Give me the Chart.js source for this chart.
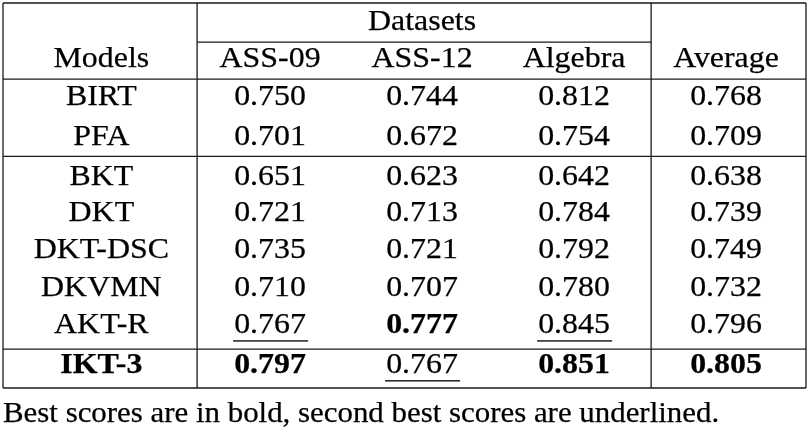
<!DOCTYPE html>
<html>
<head>
<meta charset="utf-8">
<script src="https://cdn.jsdelivr.net/npm/chart.js@4/dist/chart.umd.min.js"></script>
<style>
  html, body { margin: 0; padding: 0; background: #fff; }
  #wrap { width: 809px; height: 428px; position: relative; }
</style>
</head>
<body>
<div id="wrap"><canvas id="resultsTable"></canvas></div>
<script>
// Table data
const models = ['BIRT', 'PFA', 'BKT', 'DKT', 'DKT-DSC', 'DKVMN', 'AKT-R', 'IKT-3'];
const columns = ['ASS-09', 'ASS-12', 'Algebra', 'Average'];
const ass09 = [0.750, 0.701, 0.651, 0.721, 0.735, 0.710, 0.767, 0.797];
const ass12 = [0.744, 0.672, 0.623, 0.713, 0.721, 0.707, 0.777, 0.767];
const algebra = [0.812, 0.754, 0.642, 0.784, 0.792, 0.780, 0.845, 0.851];
const average = [0.768, 0.709, 0.638, 0.739, 0.749, 0.732, 0.796, 0.805];
const boldRow = [7, 6, 7, 7];        // best score per column
const underlineRow = [6, 7, 6, -1];  // second best per column
const footnote = 'Best scores are in bold, second best scores are underlined.';

// Layout (scale units: 1 x unit = one dataset column, 1 y unit ~ one row)
const colX = [1, 2, 3, 4];
const modelX = -0.11;
const xEdges = { left: -0.757, models: 0.52, average: 3.507, right: 4.526 };
const rowY = [0, 1.07, 2.15, 3.14, 4.12, 5.17, 6.17, 7.25];
const headY = { datasets: -2.04, columns: -1.05 };
const yLines = { top: -2.51, datasets: -1.45, header: -0.45, group: 1.64, last: 6.86, bottom: 7.91 };

const FONT = '"Liberation Serif", "Times New Roman", serif';
const SIZE = 29;
const STRETCH = 1.1;

function drawCell(ctx, text, x, yc, bold, underline, align, stretch) {
  ctx.save();
  ctx.font = (bold ? 'bold ' : '') + SIZE + 'px ' + FONT;
  ctx.textAlign = align || 'center';
  ctx.textBaseline = 'alphabetic';
  ctx.fillStyle = '#000';
  ctx.strokeStyle = '#000';
  ctx.lineWidth = 0.25;
  ctx.translate(x, yc + SIZE * 0.33);
  ctx.scale(stretch || STRETCH, 1);
  ctx.fillText(text, 0, 0);
  ctx.strokeText(text, 0, 0);
  if (underline) {
    const w = ctx.measureText(text).width;
    ctx.fillRect(-w / 2 - 1, 7, w + 3, 1.3);
  }
  ctx.restore();
}

const tablePlugin = {
  id: 'tableDraw',
  afterDatasetsDraw(chart) {
    const ctx = chart.ctx;
    const xs = chart.scales.x;
    const ys = chart.scales.y;
    const px = v => xs.getPixelForValue(v);
    const py = v => ys.getPixelForValue(v);

    // rules
    ctx.save();
    ctx.strokeStyle = '#1a1a1a';
    ctx.lineWidth = 1.3;
    ctx.beginPath();
    [xEdges.left, xEdges.models, xEdges.average, xEdges.right].forEach(v => {
      ctx.moveTo(px(v), py(yLines.top));
      ctx.lineTo(px(v), py(yLines.bottom));
    });
    [yLines.top, yLines.header, yLines.group, yLines.last, yLines.bottom].forEach(v => {
      ctx.moveTo(px(xEdges.left), py(v));
      ctx.lineTo(px(xEdges.right), py(v));
    });
    ctx.moveTo(px(xEdges.models), py(yLines.datasets));
    ctx.lineTo(px(xEdges.average), py(yLines.datasets));
    ctx.stroke();
    ctx.restore();

    // headers
    drawCell(ctx, 'Datasets', px(colX[1]), py(headY.datasets));
    drawCell(ctx, 'Models', px(modelX), py(headY.columns));
    columns.forEach((c, i) => drawCell(ctx, c, px(colX[i]), py(headY.columns)));

    // body
    const first = chart.getDatasetMeta(0);
    models.forEach((m, i) => {
      drawCell(ctx, m, px(modelX), first.data[i].y, i === models.length - 1);
    });
    chart.data.datasets.forEach((ds, c) => {
      const meta = chart.getDatasetMeta(c);
      meta.data.forEach((el, i) => {
        drawCell(ctx, ds.values[i].toFixed(3), el.x, el.y, boldRow[c] === i, underlineRow[c] === i);
      });
    });

    // footnote under the table
    drawCell(ctx, footnote, chart.chartArea.left, chart.chartArea.bottom + 24, false, false, 'left', 1.065);
  }
};

const series = [ass09, ass12, algebra, average];

function initTable() {
  new Chart(document.getElementById('resultsTable'), {
    type: 'scatter',
    data: {
      datasets: series.map((vals, c) => ({
        label: columns[c],
        values: vals,
        data: vals.map((v, i) => ({ x: colX[c], y: rowY[i] })),
        pointRadius: 0,
        pointHoverRadius: 0
      }))
    },
    options: {
      responsive: true,
      maintainAspectRatio: false,
      animation: false,
      layout: { padding: { left: 3, right: 3, top: 3, bottom: 40 } },
      scales: {
        x: { type: 'linear', min: xEdges.left, max: xEdges.right, display: false },
        y: { type: 'linear', reverse: true, min: yLines.top, max: yLines.bottom, display: false }
      },
      plugins: {
        legend: { display: false },
        tooltip: { enabled: false }
      }
    },
    plugins: [tablePlugin]
  });
}

// canvas text needs the serif font loaded first
Promise.all([
  document.fonts.load(SIZE + 'px "Liberation Serif"'),
  document.fonts.load('bold ' + SIZE + 'px "Liberation Serif"')
]).then(initTable, initTable);
</script>
</body>
</html>
